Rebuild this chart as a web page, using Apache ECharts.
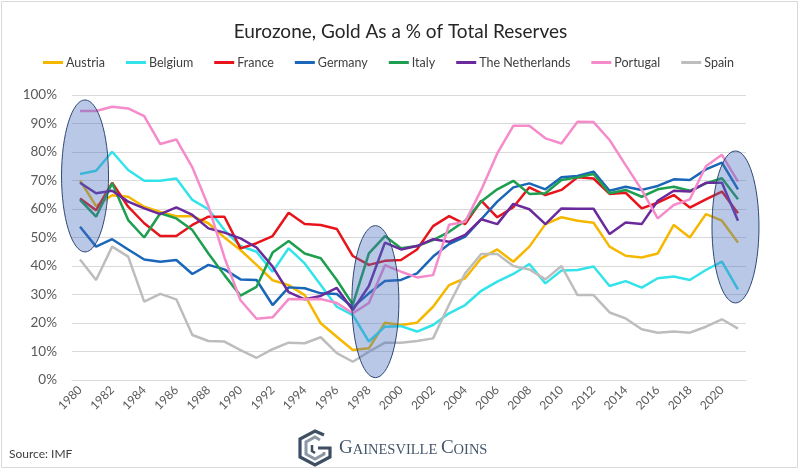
<!DOCTYPE html>
<html>
<head>
<meta charset="utf-8">
<script src="https://cdn.jsdelivr.net/npm/echarts@6/dist/echarts.min.js"></script>
<style>
html,body{margin:0;padding:0;background:#fff;}
#chart{width:801px;height:472px;}
</style>
</head>
<body>
<div id="chart"></div>
<script>
// ---- data (percent of total reserves) ----
const years = [];
for (let y = 1980; y <= 2021; y++) years.push(String(y));

const austria = [70, 61, 64.8, 64.3, 60.8, 59, 57.5, 57.5, 55, 50,
  45.6, 40.4, 35, 33.3, 29.8, 19.9, 15.2, 10.5, 11.1, 20.1,
  19.3, 20.1, 25.7, 33.3, 35.7, 42.7, 45.8, 41.5, 46.8, 54.7,
  57.1, 55.9, 55.2, 46.8, 43.6, 43, 44.4, 54.4, 50, 58.2,
  55.9, 48.2];
const belgium = [72.3, 73.4, 80.1, 73.7, 69.9, 69.9, 70.7, 63.2, 59.9, 52.6,
  47, 45, 38, 46.2, 40.9, 33.3, 25.7, 22.8, 13.5, 18.7,
  18.9, 17, 19.3, 23.4, 26.3, 31.3, 34.5, 37.2, 40.7, 33.9,
  38.4, 38.6, 39.8, 33, 34.7, 32.4, 35.7, 36.3, 35.1, 38.6,
  41.5, 31.8];
const france = [63.7, 59.6, 69.2, 60.8, 55, 50.5, 50.5, 54.4, 57.3, 57.3,
  46.2, 48, 50.5, 58.7, 54.7, 54.4, 53, 43.5, 40.4, 41.8,
  42.1, 45.8, 54, 57.5, 54.7, 62.9, 57.1, 60.6, 67.6, 64.9,
  66.7, 71.1, 70.7, 65.3, 65.7, 60.2, 62.2, 64.9, 60.5, 63.4,
  66.1, 58.5];
const germany = [53.8, 46.8, 49.4, 45.8, 42.3, 41.5, 42.1, 37.2, 40.4, 38.8,
  35.3, 35.1, 26.3, 32.5, 32.2, 30.4, 30.2, 25.5, 30.4, 34.7,
  35.1, 37.4, 43.3, 47.7, 50.3, 56.4, 62.6, 67.6, 69, 66.9,
  71.1, 71.6, 73.1, 66.4, 67.8, 66.7, 68.1, 70.4, 70.2, 73.9,
  76.3, 66.9];
const italy = [63.2, 57.3, 69, 56.1, 50, 58.5, 56.7, 52.6, 44.4, 36.8,
  29.6, 32.7, 44.7, 48.8, 44.4, 42.7, 35.1, 26.5, 44.4, 50.5,
  46.2, 47, 49.1, 52, 55.9, 62.6, 66.9, 69.9, 65.3, 65.5,
  70.2, 71.1, 72.3, 65.5, 66.7, 64.3, 66.9, 67.8, 66.4, 69,
  70.8, 63.4];
const netherlands = [69.2, 65.5, 66.4, 62.6, 60.2, 58.2, 60.6, 57.9, 53.2, 51.7,
  49.7, 46.5, 39.8, 30.8, 28.3, 29.5, 32.3, 24.5, 33, 48.2,
  45.8, 47, 49.4, 48.5, 50.9, 56.4, 54.7, 61.8, 59.9, 54.7,
  60.2, 60.1, 60.1, 51.2, 55.3, 54.7, 62.9, 66.4, 66.1, 69.2,
  69.2, 55.9];
const portugal = [94.4, 94.4, 95.9, 95.3, 92.6, 82.8, 84.4, 74.6, 61, 43,
  28, 21.5, 22, 28.4, 28.3, 28.4, 27, 23.4, 27, 40.3,
  38, 36, 36.8, 54.5, 55.5, 66.7, 79.5, 89.2, 89.2, 84.8,
  83, 90.6, 90.5, 84.2, 75.4, 66.7, 56.7, 61.4, 63.4, 75,
  79, 69.6];
const spain = [42.3, 35.1, 46.8, 43.3, 27.5, 30.2, 28.3, 15.8, 13.7, 13.5,
  10.5, 7.8, 10.8, 13.1, 12.9, 15, 9.4, 6.4, 9.9, 13.1,
  13.1, 13.7, 14.6, 26.5, 37.4, 44.2, 44.2, 40, 38.8, 35.3,
  40, 29.8, 29.8, 23.7, 21.6, 17.8, 16.6, 17, 16.6, 18.7,
  21.3, 18];

const seriesNames = ['Austria', 'Belgium', 'France', 'Germany', 'Italy', 'The Netherlands', 'Portugal', 'Spain'];
const seriesData = [austria, belgium, france, germany, italy, netherlands, portugal, spain];
const seriesColors = ['#F5B700', '#33E3EA', '#E8141B', '#1A66B8', '#1E9E4F', '#6A2A9C', '#F58BCB', '#BDBDBD'];

// highlighted periods (annotation ellipses): year and centre value
const highlightYears = ['1980', '1998', '2021'];
const highlightValues = [71.6, 27.5, 53.7];
const highlightOffsets = [5, 6.5, -2.5];

const chart = echarts.init(document.getElementById('chart'), null, {renderer: 'canvas'});

const font = 'Lato, "Open Sans", sans-serif';

const option = {
  animation: false,
  backgroundColor: '#ffffff',
  title: {
    text: 'Eurozone, Gold As a % of Total Reserves',
    left: 'center',
    top: 17,
    textStyle: {fontFamily: font, fontSize: 19, fontWeight: 'normal', color: '#262626'}
  },
  legend: {
    data: seriesNames,
    top: 51,
    left: 38,
    itemWidth: 20,
    itemHeight: 3,
    itemGap: 21,
    icon: 'rect',
    textStyle: {fontFamily: font, fontSize: 12.5, color: '#404040', padding: [0, 0, 0, -2]}
  },
  grid: {left: 72, right: 55, top: 95, bottom: 92},
  xAxis: {
    type: 'category',
    data: years,
    boundaryGap: true,
    axisLine: {show: true, lineStyle: {color: '#D9D9D9', width: 1}},
    axisTick: {show: false},
    axisLabel: {
      interval: 1,
      rotate: 45,
      fontFamily: font,
      fontSize: 12,
      color: '#595959',
      margin: 8
    },
    splitLine: {show: false}
  },
  yAxis: {
    type: 'value',
    min: 0,
    max: 100,
    interval: 10,
    axisLine: {show: false},
    axisTick: {show: false},
    axisLabel: {
      formatter: '{value}%',
      fontFamily: font,
      fontSize: 13.5,
      color: '#595959',
      margin: 15
    },
    splitLine: {lineStyle: {color: '#D9D9D9', width: 1}}
  },
  series: seriesNames.map((name, i) => ({
    name: name,
    type: 'line',
    data: seriesData[i],
    symbol: 'none',
    lineStyle: {width: 2.5, color: seriesColors[i]},
    itemStyle: {color: seriesColors[i]},
    z: 2
  }))
};

chart.setOption(option);

// ---- annotations & logo ----
const graphics = [];
// outer frame
graphics.push({
  type: 'rect', shape: {x: 1.5, y: 1.5, width: 796, height: 466},
  style: {fill: 'none', stroke: '#D9D9D9', lineWidth: 1}, z: 0, silent: true
});
highlightYears.forEach((yr, i) => {
  const p = chart.convertToPixel({gridIndex: 0}, [yr, highlightValues[i]]);
  graphics.push({
    type: 'ellipse',
    shape: {cx: p[0] + highlightOffsets[i], cy: p[1], rx: 23.5, ry: 76},
    style: {fill: 'rgba(70,110,190,0.38)', stroke: '#2F4876', lineWidth: 1},
    z: 100
  });
});
// source
graphics.push({
  type: 'text', left: 9, top: 448,
  style: {text: 'Source: IMF', fontFamily: font, fontSize: 12, fill: '#404040'}
});
// logo icon (stylised G made of chevrons)
const ix = 298, iy = 431;
graphics.push({
  type: 'group', x: ix, y: iy, z: 50,
  children: [
    {type: 'polyline', shape: {points: [[26, 4], [17, 0], [2, 8], [2, 26], [17, 34], [32, 26], [32, 17], [20, 17]]},
      style: {stroke: '#3E4F63', lineWidth: 3.2, fill: 'none', lineJoin: 'miter'}},
    {type: 'polyline', shape: {points: [[22, 9], [17, 6], [8, 11], [8, 23], [17, 28], [26, 23], [26, 21]]},
      style: {stroke: '#8D98A5', lineWidth: 3, fill: 'none', lineJoin: 'miter'}},
    {type: 'polyline', shape: {points: [[14, 14], [14, 20], [17, 22]]},
      style: {stroke: '#3E4F63', lineWidth: 2.5, fill: 'none'}}
  ]
});
graphics.push({
  type: 'text', left: 339, top: 439, z: 50,
  style: {
    text: '{b|G}{s|AINESVILLE }{b|C}{s|OINS}',
    rich: {
      b: {fontFamily: '"Liberation Serif", serif', fontSize: 19, fill: '#44566B', color: '#44566B'},
      s: {fontFamily: '"Liberation Serif", serif', fontSize: 14.5, fill: '#44566B', color: '#44566B', verticalAlign: 'bottom'}
    }
  }
});
chart.setOption({graphic: graphics});
</script>
</body>
</html>
